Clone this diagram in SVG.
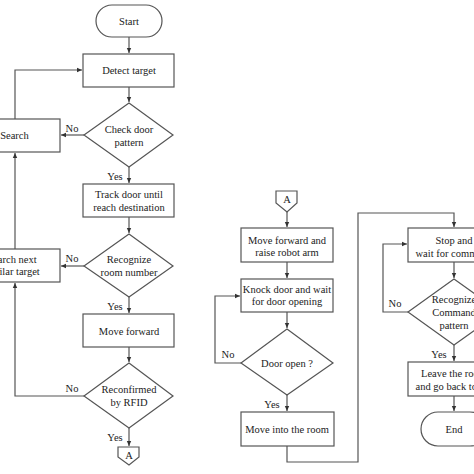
<svg xmlns="http://www.w3.org/2000/svg" width="474" height="474" viewBox="0 0 474 474">
<defs>
<marker id="ah" markerWidth="6" markerHeight="6" refX="5" refY="3" orient="auto" markerUnits="userSpaceOnUse">
<path d="M0,0.8 L5,3 L0,5.2 Z" fill="#333"/>
</marker>
<style>
.s{fill:#fff;stroke:#555;stroke-width:1.2}
.c{fill:none;stroke:#555;stroke-width:1.2}
text{font-family:"Liberation Serif","Times New Roman",serif;font-size:10.5px;fill:#222;text-anchor:middle;dominant-baseline:central}
</style>
</defs>
<rect width="474" height="474" fill="#fff"/>
<g id="connectors">
<path class="c" d="M129,37 V53" marker-end="url(#ah)"/>
<path class="c" d="M129,87 V102" marker-end="url(#ah)"/>
<path class="c" d="M84,135 H61" marker-end="url(#ah)"/>
<path class="c" d="M129,167 V183" marker-end="url(#ah)"/>
<path class="c" d="M129,217 V233" marker-end="url(#ah)"/>
<path class="c" d="M84,266 H61" marker-end="url(#ah)"/>
<path class="c" d="M129,297 V313" marker-end="url(#ah)"/>
<path class="c" d="M129,347 V362" marker-end="url(#ah)"/>
<path class="c" d="M84,396 H15 V283" marker-end="url(#ah)"/>
<path class="c" d="M15,249 V153" marker-end="url(#ah)"/>
<path class="c" d="M15,119 V70 H82" marker-end="url(#ah)"/>
<path class="c" d="M129,428 V446" marker-end="url(#ah)"/>
<path class="c" d="M287,212 V227" marker-end="url(#ah)"/>
<path class="c" d="M287,262 V278" marker-end="url(#ah)"/>
<path class="c" d="M287,312 V328" marker-end="url(#ah)"/>
<path class="c" d="M241,363 H215 V296 H240" marker-end="url(#ah)"/>
<path class="c" d="M287,395 V411" marker-end="url(#ah)"/>
<path class="c" d="M287,446 V462 H358 V213 H454 V227" marker-end="url(#ah)"/>
<path class="c" d="M454,262 V278" marker-end="url(#ah)"/>
<path class="c" d="M408,312 H383 V244 H407" marker-end="url(#ah)"/>
<path class="c" d="M454,345 V361" marker-end="url(#ah)"/>
<path class="c" d="M454,396 V411" marker-end="url(#ah)"/>
<text x="72" y="128">No</text>
<text x="115" y="176">Yes</text>
<text x="72" y="258">No</text>
<text x="115" y="306">Yes</text>
<text x="72" y="388">No</text>
<text x="115" y="437">Yes</text>
<text x="228" y="354">No</text>
<text x="272" y="404">Yes</text>
<text x="395" y="303">No</text>
<text x="439" y="354">Yes</text>
</g>
<g id="start"><rect class="s" x="96" y="5" width="66" height="32" rx="16"/><text x="129" y="21">Start</text></g>
<g id="detect"><rect class="s" x="83" y="54" width="91" height="33"/><text x="129" y="70">Detect target</text></g>
<g id="checkdoor"><polygon class="s" points="129,103 173,135 129,167 84,135"/><text x="129" y="129">Check door</text><text x="129" y="142">pattern</text></g>
<g id="search"><rect class="s" x="-31" y="119" width="91" height="33"/><text x="14.5" y="135">Search</text></g>
<g id="track"><rect class="s" x="83" y="184" width="91" height="33"/><text x="129" y="194">Track door until</text><text x="129" y="207">reach destination</text></g>
<g id="recroom"><polygon class="s" points="129,234 173,266 129,297 84,266"/><text x="129" y="259">Recognize</text><text x="129" y="272">room number</text></g>
<g id="searchnext"><rect class="s" x="-31" y="249" width="91" height="33"/><text x="12" y="259">Search next</text><text x="12" y="271">similar target</text></g>
<g id="moveforward"><rect class="s" x="83" y="314" width="91" height="33"/><text x="129" y="331">Move forward</text></g>
<g id="rfid"><polygon class="s" points="129,363 173,396 129,428 84,396"/><text x="129" y="389">Reconfirmed</text><text x="129" y="402">by RFID</text></g>
<g id="connA1"><polygon class="s" points="118,447 139,447 139,457 129,465 118,457"/><text x="129" y="455">A</text></g>
<g id="connA2"><polygon class="s" points="276,191 297,191 297,203 287,212 276,203"/><text x="287" y="199">A</text></g>
<g id="raisearm"><rect class="s" x="241" y="228" width="92" height="34"/><text x="287" y="240">Move forward and</text><text x="287" y="252">raise robot arm</text></g>
<g id="knock"><rect class="s" x="241" y="279" width="92" height="33"/><text x="287" y="289">Knock door and wait</text><text x="287" y="301">for door opening</text></g>
<g id="dooropen"><polygon class="s" points="287,329 333,363 287,395 241,363"/><text x="287" y="363">Door open ?</text></g>
<g id="moveinto"><rect class="s" x="241" y="412" width="93" height="34"/><text x="287" y="429">Move into the room</text></g>
<g id="stop"><rect class="s" x="408" y="228" width="92" height="34"/><text x="454" y="240">Stop and</text><text x="454" y="253">wait for command</text></g>
<g id="reccmd"><polygon class="s" points="454,279 500,312 454,345 408,312"/><text x="454" y="299">Recognize</text><text x="454" y="312">Command</text><text x="454" y="325">pattern</text></g>
<g id="leave"><rect class="s" x="408" y="362" width="92" height="34"/><text x="454" y="373">Leave the room</text><text x="454" y="386">and go back to lab</text></g>
<g id="end"><rect class="s" x="421" y="412" width="66" height="34" rx="17"/><text x="454" y="429">End</text></g>
</svg>
